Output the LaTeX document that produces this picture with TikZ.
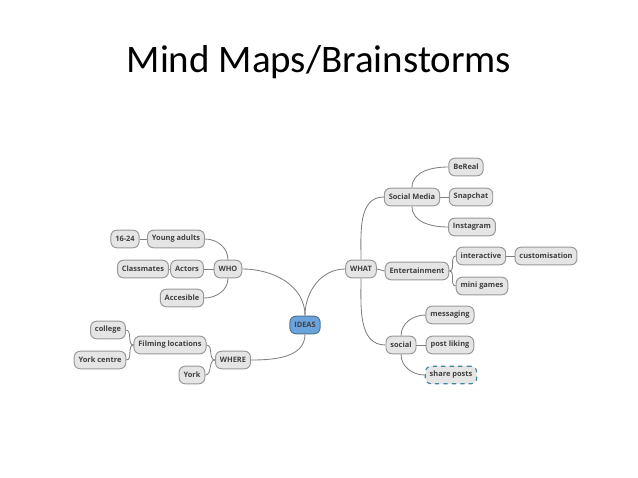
\documentclass[tikz,border=0pt]{standalone}
\usepackage{fontspec}
\setmainfont{Carlito}
\newfontfamily\nodefont{Open Sans}
\usetikzlibrary{shapes,backgrounds,positioning}

\begin{document}
\begin{tikzpicture}[x=0.025cm,y=-0.025cm]
  \tikzstyle{idea}=[rectangle,rounded corners=1.5mm,draw=gray!80,line width=0.7pt,fill=gray!20,minimum height=4.4mm,inner xsep=1.1mm,font=\nodefont\bfseries\fontsize{5.3}{6}\selectfont,text=black!75]
  \tikzstyle{root}=[idea,fill=cyan!60!blue!60,draw=cyan!50!black]
  \tikzstyle{link}=[draw=gray,line width=0.6pt]

  \useasboundingbox (0,0) rectangle (638,478);
  \node [font=\fontsize{27.7}{32}\selectfont] (title) at (319,62) {Mind Maps/Brainstorms};

  % Root.
  \node [root] (ideas) at (305,325) {IDEAS};

  % Left side: WHO.
  \node [idea] (who) at (228,269) {WHO};
  \node [idea] (young) at (176,239) {Young adults};
  \node [idea] (age) at (125,239) {16-24};
  \node [idea] (actors) at (187,269) {Actors};
  \node [idea] (mates) at (143,269) {Classmates};
  \node [idea] (access) at (182,298) {Accesible};

  % Left side: WHERE.
  \node [idea] (where) at (233,360) {WHERE};
  \node [idea] (film) at (170,345) {Filming locations};
  \node [idea] (college) at (108,330) {college};
  \node [idea] (centre) at (100,360) {York centre};
  \node [idea] (york) at (192,375) {York};

  % Right side: WHAT.
  \node [idea] (what) at (361,269) {WHAT};
  \node [idea] (media) at (412,197) {Social Media};
  \node [idea] (bereal) at (466,167) {BeReal};
  \node [idea] (snap) at (471,197) {Snapchat};
  \node [idea] (insta) at (472,227) {Instagram};
  \node [idea] (ent) at (417,271) {Entertainment};
  \node [idea] (inter) at (481,256) {interactive};
  \node [idea] (custom) at (546,256) {customisation};
  \node [idea] (games) at (482,286) {mini games};
  \node [idea] (social) at (401,345) {social};
  \node [idea] (msg) at (450,315) {messaging};
  \node [idea] (like) at (450,345) {post liking};
  \node [idea,draw=cyan!60!black,dashed,line width=0.8pt] (share) at (451,375) {share posts};

  \begin{scope}[link]
   \path (ideas.north) edge [out=90,in=0] (who.east);
   \path (ideas.south) edge [out=-90,in=0] (where.east);
   \path (ideas.north) edge [out=90,in=180] (what.west);

   \path (who.north) edge [out=90,in=0] (young.east);
   \path (who.west) edge (actors.east);
   \path (who.south) edge [out=-90,in=0] (access.east);
   \path (young.west) edge (age.east);
   \path (actors.west) edge (mates.east);

   \path (where.west) edge [out=180,in=0] (film.east);
   \path (where.west) edge [out=180,in=0] (york.east);
   \path (film.west) edge [out=180,in=0] (college.east);
   \path (film.west) edge [out=180,in=0] (centre.east);

   \path (what.north) edge [out=90,in=180] (media.west);
   \path (what.east) edge (ent.west);
   \path (what.south) edge [out=-90,in=180] (social.west);

   \path (media.north) edge [out=90,in=180] (bereal.west);
   \path (media.east) edge (snap.west);
   \path (media.south) edge [out=-90,in=180] (insta.west);

   \path (ent.east) edge [out=0,in=180] (inter.west);
   \path (ent.east) edge [out=0,in=180] (games.west);
   \path (inter.east) edge (custom.west);

   \path (social.north) edge [out=90,in=180] (msg.west);
   \path (social.east) edge (like.west);
   \path (social.south) edge [out=-90,in=180] (share.west);
  \end{scope}
\end{tikzpicture}
\end{document}
